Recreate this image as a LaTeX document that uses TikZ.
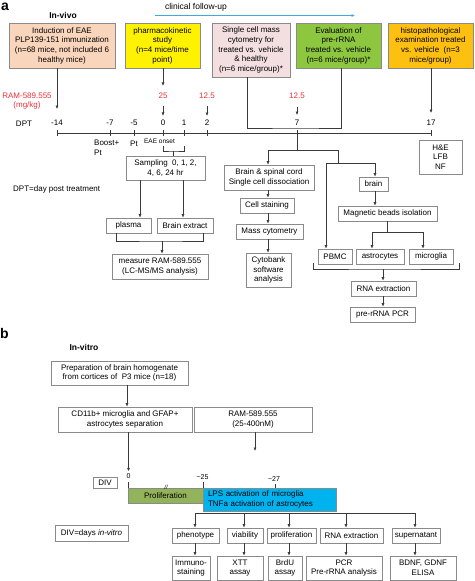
\documentclass[tikz,border=0pt]{standalone}
\usepackage{fontspec}
\setmainfont{Liberation Sans}
\usetikzlibrary{positioning, arrows.meta, calc}

\definecolor{boxgray}{HTML}{8A8A8A}
\definecolor{linegray}{HTML}{3A3A3A}
\definecolor{peach}{HTML}{F9D5BC}
\definecolor{pkyellow}{HTML}{FFF200}
\definecolor{smcpink}{HTML}{F3DFDF}
\definecolor{rnagreen}{HTML}{8DC63F}
\definecolor{histgold}{HTML}{FDC010}
\definecolor{ramred}{HTML}{E8303A}
\definecolor{followblue}{HTML}{41A9DD}
\definecolor{prolgreen}{HTML}{93B35A}
\definecolor{lpscyan}{HTML}{00B2EE}

\newcommand{\boxfont}{\fontsize{8}{9.7}\selectfont}

\begin{document}
\begin{tikzpicture}[x=1pt, y=-1pt,
  box/.style={rectangle, draw=boxgray, line width=0.6pt, inner sep=1pt, font=\boxfont, align=center},
  lbl/.style={inner sep=1pt, font=\boxfont, align=center},
  small/.style={inner sep=1pt, font=\fontsize{6.5}{7}\selectfont},
  redlbl/.style={lbl, text=ramred},
  head/.style={inner sep=1pt, font=\fontsize{8.5}{10}\selectfont\bfseries},
  panel/.style={inner sep=0pt, font=\fontsize{14}{14}\selectfont\bfseries},
  arr/.style={-{Latex[length=3.5pt,width=3pt]}, line width=0.6pt, draw=linegray},
  conn/.style={line width=0.6pt, draw=linegray}
]
  \useasboundingbox (0,0) rectangle (474,581);

  % Panel a: in vivo
  \node[panel] (pa) at (5,6.5) {a};
  \node[head] (invivo) at (63,15) {In-vivo};
  \node[lbl, font=\fontsize{8.5}{10}\selectfont] (follow) at (196,7) {clinical follow-up};
  \coordinate (fstart) at (155,15.5);
  \coordinate (fend) at (355,15.5);
  \draw[-{Latex[length=3.5pt,width=3pt]}, line width=0.8pt, followblue] (fstart) -- (fend);

  \node[box, fill=peach, minimum width=106pt, minimum height=45pt] (induct) at (62,45.5)
    {Induction of EAE\\PLP139-151 immunization\\(n=68 mice, not included 6\\healthy mice)};
  \node[box, fill=pkyellow, minimum width=75pt, minimum height=45pt] (pk) at (162.5,45.5)
    {pharmacokinetic\\study\\(n=4 mice/time\\point)};
  \node[box, fill=smcpink, minimum width=78pt, minimum height=54pt] (smc) at (251,50)
    {Single cell mass\\cytometry for\\treated vs. vehicle\\\& healthy\\(n=6 mice/group)*};
  \node[box, fill=rnagreen, minimum width=85pt, minimum height=45pt] (evalr) at (338.5,45.5)
    {Evaluation of\\pre-rRNA\\treated vs. vehicle\\(n=6 mice/group)*};
  \node[box, fill=histgold, minimum width=85pt, minimum height=45pt] (histo) at (430.5,45.5)
    {histopathological\\examination treated\\vs. vehicle \ (n=3\\mice/group)};

  % doses
  \node[redlbl] (ramdose) at (27,101) {RAM-589.555\\(mg/kg)};
  \node[redlbl] (r25) at (163,96) {25};
  \node[redlbl] (r125a) at (207,96) {12.5};
  \node[redlbl] (r125b) at (297,96) {12.5};

  % DPT axis
  \node[lbl] (dpt) at (24,124) {DPT};
  \coordinate (tlstart) at (57,133);
  \coordinate (tlend) at (432,133);
  \draw[conn] (tlstart) -- (tlend);
  \foreach \x/\t [count=\i] in {57/-14,110/-7,134/-5,163/0,184/1,207/2,297/7,431/17} {
    \draw[conn] (\x,130) -- (\x,136);
    \node[lbl] (dpt\i) at (\x,123) {\t};
  }

  \draw[arr, shorten >=10pt] (induct.south -| dpt1) -- (dpt1);
  \draw[arr, shorten >=6pt] (pk.south -| r25) -- (r25);
  \draw[arr, shorten <=6pt, shorten >=3pt] (r25) -- (dpt4);
  \draw[arr, shorten <=6pt, shorten >=3pt] (r125a) -- (dpt6);
  \draw[arr, shorten <=7pt, shorten >=4pt] (r125b) -- (dpt7);
  \draw[arr, shorten >=6pt] (histo.south -| dpt8) -- (dpt8);

  \coordinate (jn7) at (297,128);
  \draw[conn] ([xshift=-4pt]smc.south) |- (jn7) -| ([xshift=2.5pt]evalr.south);

  \node[lbl, anchor=west, align=left] (boost) at (93,147.5) {Boost+\\Pt};
  \node[lbl] (pt5) at (134,144) {Pt};
  \node[small] (onset) at (159.5,141) {EAE onset};
  \node[lbl, anchor=west] (dptnote) at (12,189) {DPT=day post treatment};

  % pharmacokinetics
  \node[box, minimum width=79pt, minimum height=24pt] (sampl) at (165.5,168) {Sampling \ 0, 1, 2,\\4, 6, 24 hr};
  \coordinate (onL) at (163,146);
  \coordinate (onR) at (184,146);
  \coordinate (onM) at (173.5,151);
  \draw[conn] (onL) |- (onM) -| (onR);
  \draw[conn] (onM) -- (sampl.north -| onM);

  \node[box, minimum width=45pt, minimum height=15pt] (plasma) at (128.5,225.5) {plasma};
  \node[box, minimum width=56pt, minimum height=15pt] (brainext) at (185,225.5) {Brain extract};
  \draw[arr] (sampl.south -| 140,0) -- (plasma.north -| 140,0);
  \draw[arr] (sampl.south -| 183,0) -- (brainext.north -| 183,0);

  \node[box, minimum width=96pt, minimum height=25pt] (measure) at (160,266.5) {measure RAM-589.555\\(LC-MS/MS analysis)};
  \coordinate (pbL) at (116,233);
  \coordinate (pbR) at (203,233);
  \coordinate (pbM) at (162,241);
  \draw[conn] (pbL) |- (pbM) -| (pbR);
  \draw[arr] (pbM) -- (measure.north -| pbM);

  % mass cytometry and pre-rRNA
  \coordinate (sp7) at (297,150);
  \coordinate (sp8) at (338,163);
  \draw[conn] (dpt7 |- tlstart) -- (sp7);
  \draw[conn] (sp7) -| (sp8);

  \node[box, minimum width=90pt, minimum height=25pt] (bsc) at (269,177.5) {Brain \& spinal cord\\Single cell dissociation};
  \node[box, minimum width=54pt, minimum height=15pt] (cellst) at (267,205.5) {Cell staining};
  \node[box, minimum width=67pt, minimum height=15pt] (masscy) at (269.5,231.5) {Mass cytometry};
  \node[box, minimum width=45pt, minimum height=34pt] (cytob) at (268.5,270) {Cytobank\\software\\analysis};
  \draw[arr] (sp7) -| (bsc.north -| 268,0);
  \foreach \a/\b in {bsc/cellst, cellst/masscy, masscy/cytob}
    \draw[arr] (\a.south -| 268,0) -- (\b.north -| 268,0);

  \node[box, minimum width=29pt, minimum height=14pt] (brain) at (373.5,184) {brain};
  \node[box, minimum width=99pt, minimum height=15pt] (magn) at (387.5,213.5) {Magnetic beads isolation};
  \node[box, minimum width=34pt, minimum height=15pt] (pbmc) at (335,256.5) {PBMC};
  \node[box, minimum width=48pt, minimum height=15pt] (astro) at (380,256.5) {astrocytes};
  \node[box, minimum width=44pt, minimum height=15pt] (micro) at (431,256.5) {microglia};
  \draw[arr] (sp8) -| (pbmc.north -| 326,0);
  \draw[arr] (sp8) -| (brain.north -| 375,0);
  \draw[arr] (brain.south -| 375,0) -- (magn.north -| 375,0);
  \coordinate (sp9) at (387,232);
  \draw[conn] (magn.south -| sp9) -- (sp9);
  \draw[arr] (sp9) -| (astro.north -| 372,0);
  \draw[arr] (sp9) -| (micro.north -| 423,0);

  \node[box, minimum width=65pt, minimum height=15pt] (rnaex) at (383.5,288.5) {RNA extraction};
  \node[box, minimum width=65pt, minimum height=15pt] (prrna) at (382.5,314.5) {pre-rRNA PCR};
  \coordinate (brL) at (313,263);
  \coordinate (brR) at (459,263);
  \coordinate (brM) at (383,269);
  \draw[conn] (brL) |- (brM) -| (brR);
  \draw[arr] (brM) -- (rnaex.north -| brM);
  \draw[arr] (rnaex.south -| brM) -- (prrna.north -| brM);

  % histopathology
  \node[box, minimum width=43pt, minimum height=34pt] (hlnf) at (440.5,157) {H\&E\\LFB\\NF};

  % Panel b: in vitro
  \node[panel] (pb) at (4.5,333) {b};
  \node[head] (invitro) at (84,347) {In-vitro};
  \node[box, minimum width=137pt, minimum height=24pt] (prep) at (119.5,373)
    {Preparation of brain homogenate\\from cortices of \ P3 mice (n=18)};
  \node[box, minimum width=134pt, minimum height=25pt] (cd11b) at (125,419.5)
    {CD11b+ microglia and GFAP+\\astrocytes separation};
  \node[box, minimum width=118pt, minimum height=25pt] (ramb) at (253,419.5)
    {RAM-589.555\\(25-400nM)};
  \draw[arr] (prep.south -| 127,0) -- (cd11b.north -| 127,0);

  % DIV axis
  \node[box, minimum width=24pt, minimum height=11pt] (div) at (105,482.5) {DIV};
  \node[lbl, font=\fontsize{7}{8}\selectfont] (div0) at (128.5,476) {0};
  \node[lbl, font=\fontsize{7}{8}\selectfont] (div25) at (202.5,477) {\textasciitilde25};
  \node[lbl, font=\fontsize{7}{8}\selectfont] (div27) at (274,479) {\textasciitilde27};
  \coordinate (ramend) at (255,451);
  \draw[arr, shorten >=1pt] (cd11b.south -| div0) -- (div0);
  \draw[arr] (ramb.south -| ramend) -- (ramend);
  \draw[conn] (128,482) -- (128,488);
  \draw[conn] (203,482) -- (203,488);
  \draw[conn] (275,484) -- (275,488);

  \node[box, fill=prolgreen, minimum width=75pt, minimum height=15pt] (prolif) at (165.5,495.5) {Proliferation};
  \node[small, font=\fontsize{6}{6}\selectfont\itshape] (brk) at (166,487) {//};
  \node[box, fill=lpscyan, text width=123pt, inner xsep=5pt, minimum height=23pt, align=left] (lps) at (269.5,499.5)
    {LPS activation of microglia\\TNFa activation of astrocytes};
  \node[box, minimum width=73pt, minimum height=16pt] (divnote) at (91.5,533) {DIV=days \textit{in-vitro}};

  % read-outs
  \node[box, minimum width=47pt, minimum height=15pt] (phen) at (195.5,535.5) {phenotype};
  \node[box, minimum width=36pt, minimum height=15pt] (viab) at (245,535.5) {viability};
  \node[box, minimum width=49pt, minimum height=15pt] (prolb) at (291.5,535.5) {proliferation};
  \node[box, minimum width=63pt, minimum height=15pt] (rnab) at (351.5,535.5) {RNA extraction};
  \node[box, minimum width=48pt, minimum height=15pt] (supern) at (416,535.5) {supernatant};

  \node[box, minimum width=38pt, minimum height=24pt] (immuno) at (191,568) {Immuno-\\staining};
  \node[box, minimum width=46pt, minimum height=24pt] (xtt) at (240,568) {XTT\\assay};
  \node[box, minimum width=34pt, minimum height=24pt] (brdu) at (285,568) {BrdU\\assay};
  \node[box, minimum width=76pt, minimum height=24pt] (pcr) at (344,568) {PCR\\Pre-rRNA analysis};
  \node[box, minimum width=66pt, minimum height=24pt] (bdnf) at (423,568) {BDNF, GDNF\\ELISA};

  \coordinate (lpsL) at (195,513);
  \coordinate (lpsR) at (415,513);
  \draw[conn] (lpsL) -- (lpsR);
  \foreach \x/\a/\b in {195/phen/immuno, 244/viab/xtt, 289/prolb/brdu, 346/rnab/pcr, 415/supern/bdnf} {
    \draw[arr] (\x,513) -- (\a.north -| \x,0);
    \draw[arr] (\a.south -| \x,0) -- (\b.north -| \x,0);
  }

\end{tikzpicture}
\end{document}
